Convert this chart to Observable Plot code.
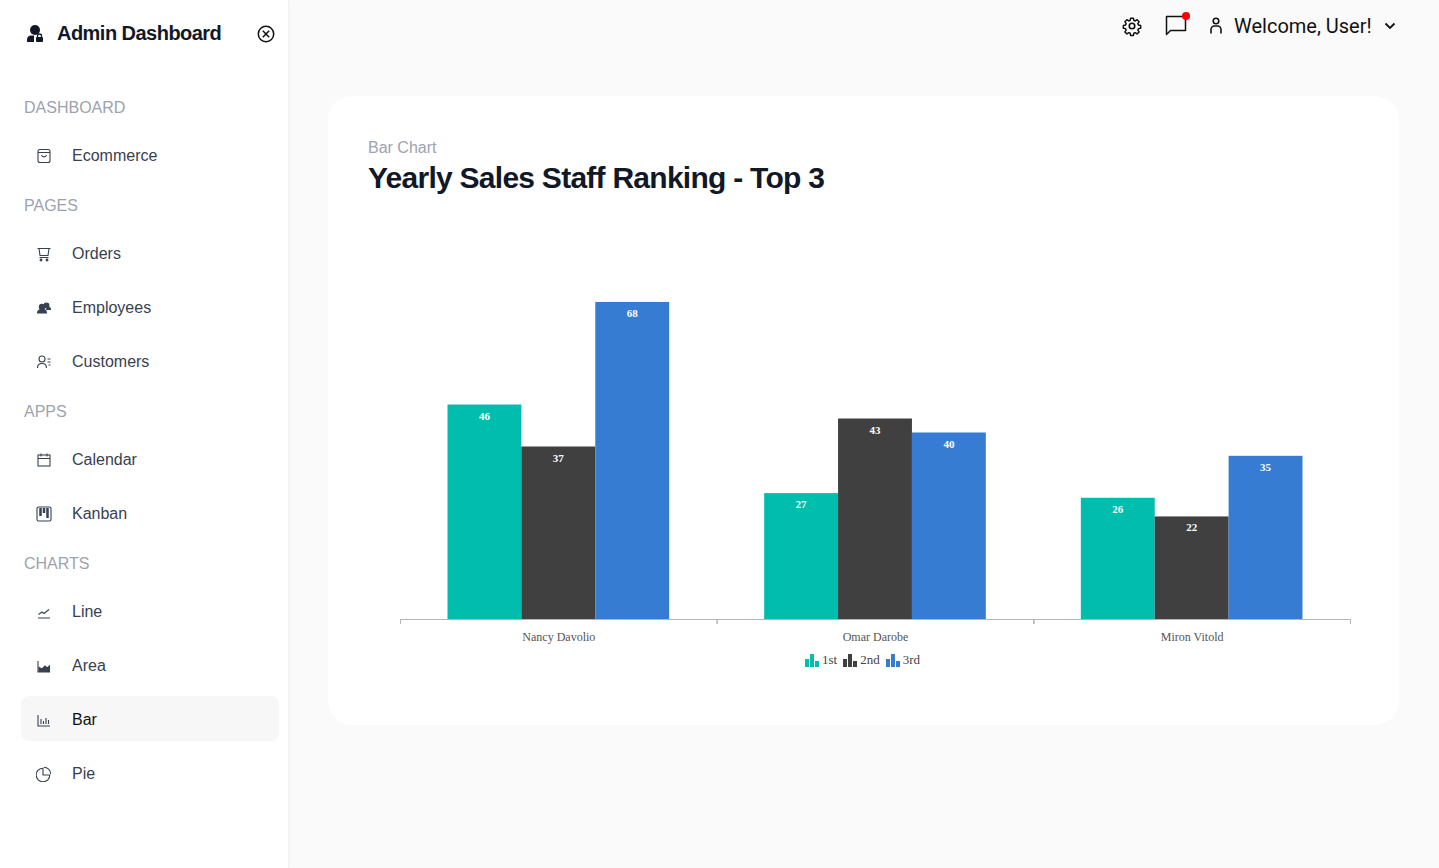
<!DOCTYPE html>
<html>
<head>
<meta charset="utf-8">
<script src="https://cdn.jsdelivr.net/npm/d3@7"></script>
<script src="https://cdn.jsdelivr.net/npm/@observablehq/plot@0.6"></script>
<style>
  html, body { margin: 0; height: 100%; background: #fafafb; overflow: hidden; }
  body { font-family: 'Liberation Sans', sans-serif; position: relative; width: 1439px; height: 868px; }
  #sidebar { position: absolute; left: 0; top: 0; width: 288px; height: 868px; background: #fff; box-shadow: 1px 0 3px rgba(0,0,0,.05); padding-top: 85px; box-sizing: border-box; }
  #brand { position: absolute; left: 57px; top: 21px; font-size: 20px; line-height: 24px; font-weight: 700; color: #111827; letter-spacing: -0.53px; white-space: nowrap; }
  .ico { position: absolute; }
  .head { height: 42px; line-height: 42px; margin-top: 2px; padding-left: 24px; font-size: 16px; color: #9ca3af; }
  .item { height: 54px; position: relative; }
  .item span { position: absolute; left: 72px; top: 0; line-height: 54px; font-size: 16px; color: #374151; }
  .item.on::before { content: ''; position: absolute; left: 21px; right: 9px; top: 3px; height: 45px; border-radius: 8px; background: #f7f7f7; }
  .item.on span { color: #111; }
  .item svg { position: absolute; left: 36px; top: 19px; }
  #card { position: absolute; left: 328px; top: 96px; width: 1071px; height: 629px; background: #fff; border-radius: 24px; }
  #sub { position: absolute; left: 368px; top: 139px; font-size: 16px; line-height: 18px; color: #9ca3af; }
  #title { position: absolute; left: 368px; top: 160px; font-size: 30px; line-height: 36px; font-weight: 700; color: #111827; letter-spacing: -0.74px; white-space: nowrap; }
  #chart { position: absolute; left: 368px; top: 230px; }
  #legend { position: absolute; left: 805px; top: 652px; height: 16px; display: flex; align-items: center; font: 13px 'Liberation Serif', serif; color: #444; white-space: nowrap; }
  #legend svg { margin-right: 3px; }
  #legend span { margin-right: 6px; }
  #welcome { position: absolute; left: 1234px; top: 14px; font: 20px/24px Roboto, sans-serif; color: #111; white-space: nowrap; }
</style>
</head>
<body>
<div id="sidebar"></div>
<div id="card"></div>
<div id="sub">Bar Chart</div>
<div id="title">Yearly Sales Staff Ranking - Top 3</div>
<div id="chart"></div>
<div id="legend"></div>
<div id="welcome">Welcome, User!</div>

<svg class="ico" style="left:26px;top:24px" width="18" height="19" viewBox="0 0 18 19" fill="#111827"><circle cx="9" cy="6" r="5"/><path d="M1 18v-2.5C1 13 3 11.5 5 11.500h3v6.500z"/><rect x="10" y="13" width="7" height="5" rx="1"/><path d="M11.500 13v-1a2 2 0 0 1 4 0v1" fill="none" stroke="#111827" stroke-width="1.300"/></svg>
<svg class="ico" style="left:257px;top:25px" width="18" height="18" viewBox="0 0 18 18" fill="none" stroke="#111" stroke-width="1.500"><circle cx="9" cy="9" r="7.700"/><path d="M5.800 5.800l6.400 6.400M12.200 5.800l-6.400 6.400"/></svg>
<svg class="ico" style="left:1121px;top:15px" width="22" height="22" viewBox="0 0 24 24" fill="none" stroke="#111" stroke-width="1.800" stroke-linejoin="round"><circle cx="12" cy="12" r="3"/><path d="M10.300 2.500h3.400l.5 2.700 1.700.7 2.300-1.500 2.400 2.400-1.500 2.300.7 1.700 2.700.5v3.400l-2.700.5-.7 1.700 1.500 2.300-2.400 2.400-2.300-1.500-1.700.7-.5 2.700h-3.400l-.5-2.700-1.700-.7-2.300 1.500-2.400-2.400 1.500-2.300-.7-1.700-2.700-.5v-3.400l2.700-.5.7-1.700-1.500-2.300 2.400-2.400 2.300 1.500 1.700-.7z" transform="translate(1.200 1.200) scale(.9)"/></svg>
<svg class="ico" style="left:1164px;top:11px" width="28" height="26" viewBox="0 0 28 26" fill="none" stroke="#111" stroke-width="1.500"><path d="M2.500 5.500h19v14h-15l-4 4z" stroke-linejoin="round"/><circle cx="22" cy="5" r="4" fill="#f00" stroke="none"/></svg>
<svg class="ico" style="left:1207px;top:16px" width="18" height="20" viewBox="0 0 18 20" fill="none" stroke="#111" stroke-width="1.600"><circle cx="9" cy="5" r="2.800"/><path d="M4 17.500v-4a3.500 3.500 0 0 1 3.500-3.500h3a3.500 3.500 0 0 1 3.500 3.500v4"/></svg>
<svg class="ico" style="left:1383px;top:20px" width="14" height="12" viewBox="0 0 14 12" fill="none" stroke="#111" stroke-width="1.800"><path d="M2.500 3.500l4.500 4.500 4.500-4.500"/></svg>

<script>
// values
const staff = ['Nancy Davolio', 'Omar Darobe', 'Miron Vitold']
const ranks = ['1st', '2nd', '3rd']
const first = [46, 27, 26]
const second = [37, 43, 22]
const third = [68, 40, 35]
const colors = ['#00bdae', '#404041', '#357cd2']

const navGroups = ['DASHBOARD', 'PAGES', 'APPS', 'CHARTS']
const navItems = [['Ecommerce'], ['Orders', 'Employees', 'Customers'], ['Calendar', 'Kanban'], ['Line', 'Area', 'Bar', 'Pie']]

const icons = {
  Ecommerce: '<rect x="2" y="1.500" width="12" height="13" rx="2"/><path d="M2 4.500h12M5.500 7c.5 2.500 4.500 2.500 5 0"/>',
  Orders: '<path d="M1.500 2.500h13M3 2.500l1 7h8l1-7M3.500 11.500h9"/><circle cx="5" cy="14" r=".9" fill="#374151"/><circle cx="11" cy="14" r=".9" fill="#374151"/>',
  Employees: '<circle cx="6" cy="7" r="2.600" fill="#374151"/><circle cx="10.500" cy="5.500" r="2.400" fill="#374151"/><path d="M1.500 13c0-5 9-5 9 0zM10 9.500h4.500c0-1-1-2.500-3-2.500" fill="#374151"/>',
  Customers: '<circle cx="6" cy="5" r="3"/><path d="M1.500 14c0-6 9-6 9 0M11.500 5h3M11.500 8h3M12.500 11h2"/>',
  Calendar: '<rect x="2" y="3" width="12" height="11"/><path d="M2 6.500h12M5 1.500v3M11 1.500v3"/>',
  Kanban: '<rect x="1" y="1" width="14" height="14" rx="1.500"/><path d="M4.500 2v8M8 2v5M11.500 2v10" stroke-width="2.500"/>',
  Line: '<path d="M2 14h12M2.500 10.500l3.500-2.500 2 1.500 5-4"/>',
  Area: '<path d="M2 3v11h12" /><path d="M3 13.500v-4l3 1.500 3-3 2 2 2.500-2v5.500z" fill="#374151"/>',
  Bar: '<path d="M2 3v11h12M5 12V7M7.500 12V9M10 12V6M12.500 12V8"/>',
  Pie: '<path d="M7 2.200a6.800 6.800 0 1 0 6.800 6.800H7z"/><path d="M7.800 1.200a6.800 6.800 0 0 1 6.800 6.800"/>'
}

const sidebar = d3.select('#sidebar')
sidebar.append('div').attr('id', 'brand').text('Admin Dashboard')
navGroups.forEach((g, i) => {
  sidebar.append('div').attr('class', 'head').text(g)
  navItems[i].forEach(name => {
    const it = sidebar.append('div').attr('class', 'item' + (name == 'Bar' ? ' on' : ''))
    it.append('svg').attr('width', 16).attr('height', 16).attr('viewBox', '0 0 16 16')
      .attr('fill', 'none').attr('stroke', '#374151').attr('stroke-width', 1.1).html(icons[name])
    it.append('span').text(name)
  })
})

const data = staff.flatMap((name, i) => [
  { name, rank: ranks[0], value: first[i] },
  { name, rank: ranks[1], value: second[i] },
  { name, rank: ranks[2], value: third[i] }
])

// ticks sit on the band edges, the fx axis would put them on the centers
const bandTicks = (index, { fx }, values, dims) => {
  const g = d3.create('svg:g').attr('stroke', '#b5b5b5')
  const step = fx(staff[1]) - fx(staff[0])
  const edges = staff.map(s => fx(s)).concat(fx(staff[2]) + step)
  const base = dims.height - dims.marginBottom
  edges.forEach(e => g.append('line')
    .attr('x1', e + 0.5).attr('x2', e + 0.5)
    .attr('y1', base).attr('y2', base + 5))
  return g.node()
}

const chart = Plot.plot({
  width: 991,
  height: 420,
  marginLeft: 32,
  marginRight: 9,
  marginTop: 16,
  marginBottom: 31,
  style: { fontFamily: 'Liberation Serif, serif', fontSize: '12px', background: 'transparent', color: '#555' },
  fx: { domain: staff, padding: 0, round: false, label: null, axis: null },
  x: { domain: ranks, paddingInner: 0, paddingOuter: 0.643, round: false, axis: null },
  y: { domain: [0, 80], axis: null },
  color: { domain: ranks, range: colors },
  marks: [
    Plot.barY(data, { fx: 'name', x: 'rank', y: 'value', fill: 'rank' }),
    Plot.text(data, { fx: 'name', x: 'rank', y: 'value', text: 'value', dy: 11, dx: -0.500, fill: 'white', fontWeight: 700, fontSize: 11 }),
    Plot.ruleY([0], { stroke: '#b5b5b5' }),
    Plot.axisFx({ anchor: 'bottom', tickSize: 0, tickPadding: 13, label: null, fontSize: 12 }),
    bandTicks
  ]
})
d3.select('#chart').append(() => chart)

const legend = d3.select('#legend')
ranks.forEach((r, i) => {
  legend.append('svg').attr('width', 14).attr('height', 14).attr('viewBox', '0 0 14 14').attr('fill', colors[i])
    .html('<rect x="0" y="6" width="4" height="8"/><rect x="5" y="1" width="4" height="13"/><rect x="10" y="8" width="4" height="6"/>')
  legend.append('span').text(r)
})
</script>
</body>
</html>
